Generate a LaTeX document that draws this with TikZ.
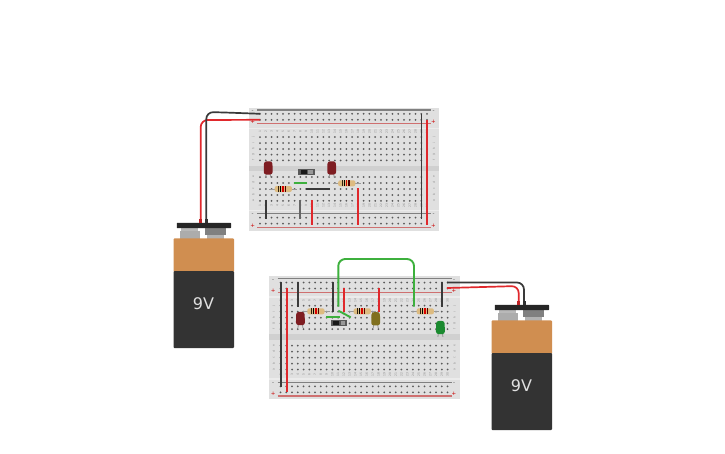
\documentclass[tikz,border=0pt]{standalone}
\usepackage{fontspec}
\setmainfont{DejaVu Sans}
\definecolor{boardc}{HTML}{E0E0E0}
\definecolor{bandc}{HTML}{D0D0D0}
\definecolor{sepc}{HTML}{EBEBEB}
\definecolor{holec}{HTML}{5A5A5A}
\definecolor{railred}{HTML}{CF7070}
\definecolor{railgray}{HTML}{808080}
\definecolor{wirered}{HTML}{E0282C}
\definecolor{wireblack}{HTML}{3A3A3A}
\definecolor{wiregreen}{HTML}{3DB03D}
\definecolor{orangebody}{HTML}{D08E50}
\definecolor{darkbody}{HTML}{333333}
\definecolor{ledred}{HTML}{7E1D22}
\definecolor{ledolive}{HTML}{80701F}
\definecolor{ledgreen}{HTML}{1B8A30}
\definecolor{restan}{HTML}{DDBB80}
\definecolor{labelc}{HTML}{8C8C8C}
\tikzset{
  jumper/.style={line width=1.9pt,line cap=butt},
  red jumper/.style={jumper,draw=wirered},
  black jumper/.style={jumper,draw=wireblack},
  gray jumper/.style={jumper,draw=black!60},
  green jumper/.style={jumper,draw=wiregreen},
  lead/.style={draw=wireblack,line width=1.7pt,rounded corners=7pt},
  leadred/.style={draw=wirered,line width=1.7pt,rounded corners=7pt},
  tinylabel/.style={font=\fontsize{3}{3}\selectfont,text=labelc,inner sep=0pt},
  railmark/.style={font=\fontsize{5.5}{5.5}\selectfont,inner sep=0pt},
  legline/.style={draw=gray!80,line width=0.9pt},
}
\newcommand{\boardpart}[2]{%
\begin{scope}[shift={(#1,#2)}]
  \fill[boardc] (248.5,107.5) rectangle (439,230.5);
  \fill[bandc] (248.5,165.5) rectangle (439,171);
  \fill[sepc] (248.5,127.6) rectangle (439,128.8);
  \fill[sepc] (248.5,209.6) rectangle (439,210.8);
  \draw[railgray,line width=1.1pt] (257,110) -- (431,110);
  \draw[railgray,line width=1.1pt] (257,213.7) -- (431,213.7);
  \draw[railred,line width=1.1pt] (257,123.7) -- (431,123.7);
  \draw[railred,line width=1.1pt] (257,227.3) -- (431,227.3);
  \foreach \c in {0,...,29}{
    \pgfmathsetmacro{\hx}{260+5.76*\c}
    \foreach \hy in {113.8,119.8,137,143,149,154.7,160.4,177,183,189,195,200.8,217.7,223.7}{
      \fill[holec] (\hx,\hy) circle (1);
    }
    \pgfmathtruncatemacro{\nn}{\c+1}
    \node[tinylabel,rotate=90] at (\hx,131.5) {\nn};
    \node[tinylabel,rotate=90] at (\hx,205.8) {\nn};
  }
  \foreach \ly/\lt in {137/j,143/i,149/h,154.7/g,160.4/f,177/e,183/d,189/c,195/b,200.8/a}{
    \node[tinylabel,rotate=90] at (253.3,\ly) {\lt};
    \node[tinylabel,rotate=90] at (434,\ly) {\lt};
  }
  \foreach \mx in {252.7,433.5}{
    \node[railmark,text=black!70] at (\mx,111.5) {-};
    \node[railmark,text=red!80!black] at (\mx,122) {+};
    \node[railmark,text=black!70] at (\mx,215) {-};
    \node[railmark,text=red!80!black] at (\mx,225.5) {+};
  }
\end{scope}}
\newcommand{\batterypart}[3]{%
\begin{scope}[shift={(#1,#2)}]
  \fill[gray!55] (181,228) rectangle (198,231);
  \fill[gray!65] (179.7,231) rectangle (200,238.5);
  \fill[gray] (205,228) rectangle (226,235);
  \fill[gray!60] (207,235) rectangle (224,238.5);
  \fill[black!85,rounded corners=0.6pt] (176.8,222.8) rectangle (231,228.2);
  \fill[orangebody,rounded corners=1pt] (173.5,238.3) rectangle (234,272);
  \fill[darkbody,rounded corners=1pt] (173.5,271) rectangle (234,348);
  \node[text=black!12,font=\fontsize{16}{17}\selectfont,inner sep=0pt] (#3) at (203.5,304) {9V};
\end{scope}}
\newcommand{\resistorpart}[2]{%
\begin{scope}[shift={(#1,#2)}]
  \draw[legline] (-14,0) -- (14,0);
  \fill[restan,rounded corners=2pt] (-8.6,-3) rectangle (8.6,3);
  \fill[black!75!brown] (-5,-3) rectangle (-3.9,3);
  \fill[black] (-3,-3) rectangle (-1.9,3);
  \fill[red!85!black] (-0.9,-3) rectangle (0.6,3);
  \fill[black!70!red] (1.6,-3) rectangle (2.7,3);
\end{scope}}
\newcommand{\ledpart}[3]{%
\begin{scope}[shift={(#1,#2)}]
  \draw[legline] (-2,12) -- (-2.5,16) (2,12) -- (2.5,16);
  \fill[#3,rounded corners=2.6pt] (-4.2,0) -- (4.2,0) -- (4.5,13.2) -- (-4.5,13.2) -- cycle;
\end{scope}}
\newcommand{\switchpart}[2]{%
\begin{scope}[shift={(#1,#2)}]
  \fill[black!65] (0,0) rectangle (16.4,6);
  \fill[black!90] (2.4,1) rectangle (8.4,5);
  \fill[black!40] (10,1.2) rectangle (14.4,4.8);
\end{scope}}
\begin{document}
\begin{tikzpicture}[x=1pt,y=-1pt]
\useasboundingbox (0,0) rectangle (725,453);
\fill[white] (0,0) rectangle (725,453);
\boardpart{0}{0}
\boardpart{20.5}{168.7}
\batterypart{0}{0}{nineA}
\batterypart{318}{82}{nineB}
% named ends
\coordinate (aneg) at (206.3,219);
\coordinate (apos) at (200.7,219);
\coordinate (arailneg) at (260,113.8);
\coordinate (arailpos) at (260,119.8);
\coordinate (bneg) at (524,301);
\coordinate (bpos) at (518.7,301);
\coordinate (brailneg) at (447,282.5);
\coordinate (brailpos) at (447,288);
% board 1 parts
\ledpart{268.2}{161.3}{ledred}
\ledpart{331.7}{161.3}{ledred}
\switchpart{298.3}{168.7}
\resistorpart{283.3}{189}
\resistorpart{346.8}{183.3}
\draw[green jumper] (294,182.7) -- (307.3,182.7);
\draw[black jumper] (305.7,188.8) -- (330,188.8);
\draw[black jumper] (265.8,199.5) -- (265.8,219);
\draw[gray jumper] (300.3,200) -- (300.3,218.5);
\draw[red jumper] (311.8,200) -- (311.8,224.7);
\draw[red jumper] (357.9,188.3) -- (357.9,224.7);
\draw[black jumper] (421.5,113.5) -- (421.5,219);
\draw[red jumper] (427.2,119.5) -- (427.2,224.7);
% board 2 parts
\ledpart{300.4}{311.9}{ledred}
\ledpart{375.7}{312.2}{ledolive}
\ledpart{440.4}{320.9}{ledgreen}
\switchpart{330.8}{320}
\resistorpart{315.9}{311.3}
\resistorpart{362.2}{311.3}
\resistorpart{425.3}{311.3}
\draw[black jumper] (280.7,281.7) -- (280.7,386.7);
\draw[red jumper] (286.7,287.7) -- (286.7,392.4);
\draw[black jumper] (298,281.7) -- (298,306.7);
\draw[black jumper] (333,281.7) -- (333,312.3);
\draw[red jumper] (344.3,287.7) -- (344.3,312.3);
\draw[red jumper] (379,287.7) -- (379,312.3);
\draw[black jumper] (442.3,281.7) -- (442.3,306.7);
\draw[green jumper] (326,316.7) -- (340,316.7);
\draw[green jumper] (338.3,310.7) -- (350.7,317.3);
\draw[green jumper,rounded corners=7pt] (338.3,306.7) -- (338.3,259) -- (414,259) -- (414,306.7);
% battery leads
\draw[leadred] (apos) -- (200.7,120) -- (arailpos);
\draw[lead] (aneg) -- (206.3,112) -- (225,112.5) -- (arailneg);
\draw[lead] (brailneg) -- (524,282.5) -- (bneg);
\draw[leadred] (brailpos) -- (518.7,286) -- (bpos);
\foreach \p/\col in {apos/wirered,aneg/wireblack,bpos/wirered,bneg/wireblack}{
  \fill[\col!85!black] ([xshift=-1.5pt]\p) rectangle ([xshift=1.5pt,yshift=-4pt]\p);
}
\end{tikzpicture}
\end{document}
